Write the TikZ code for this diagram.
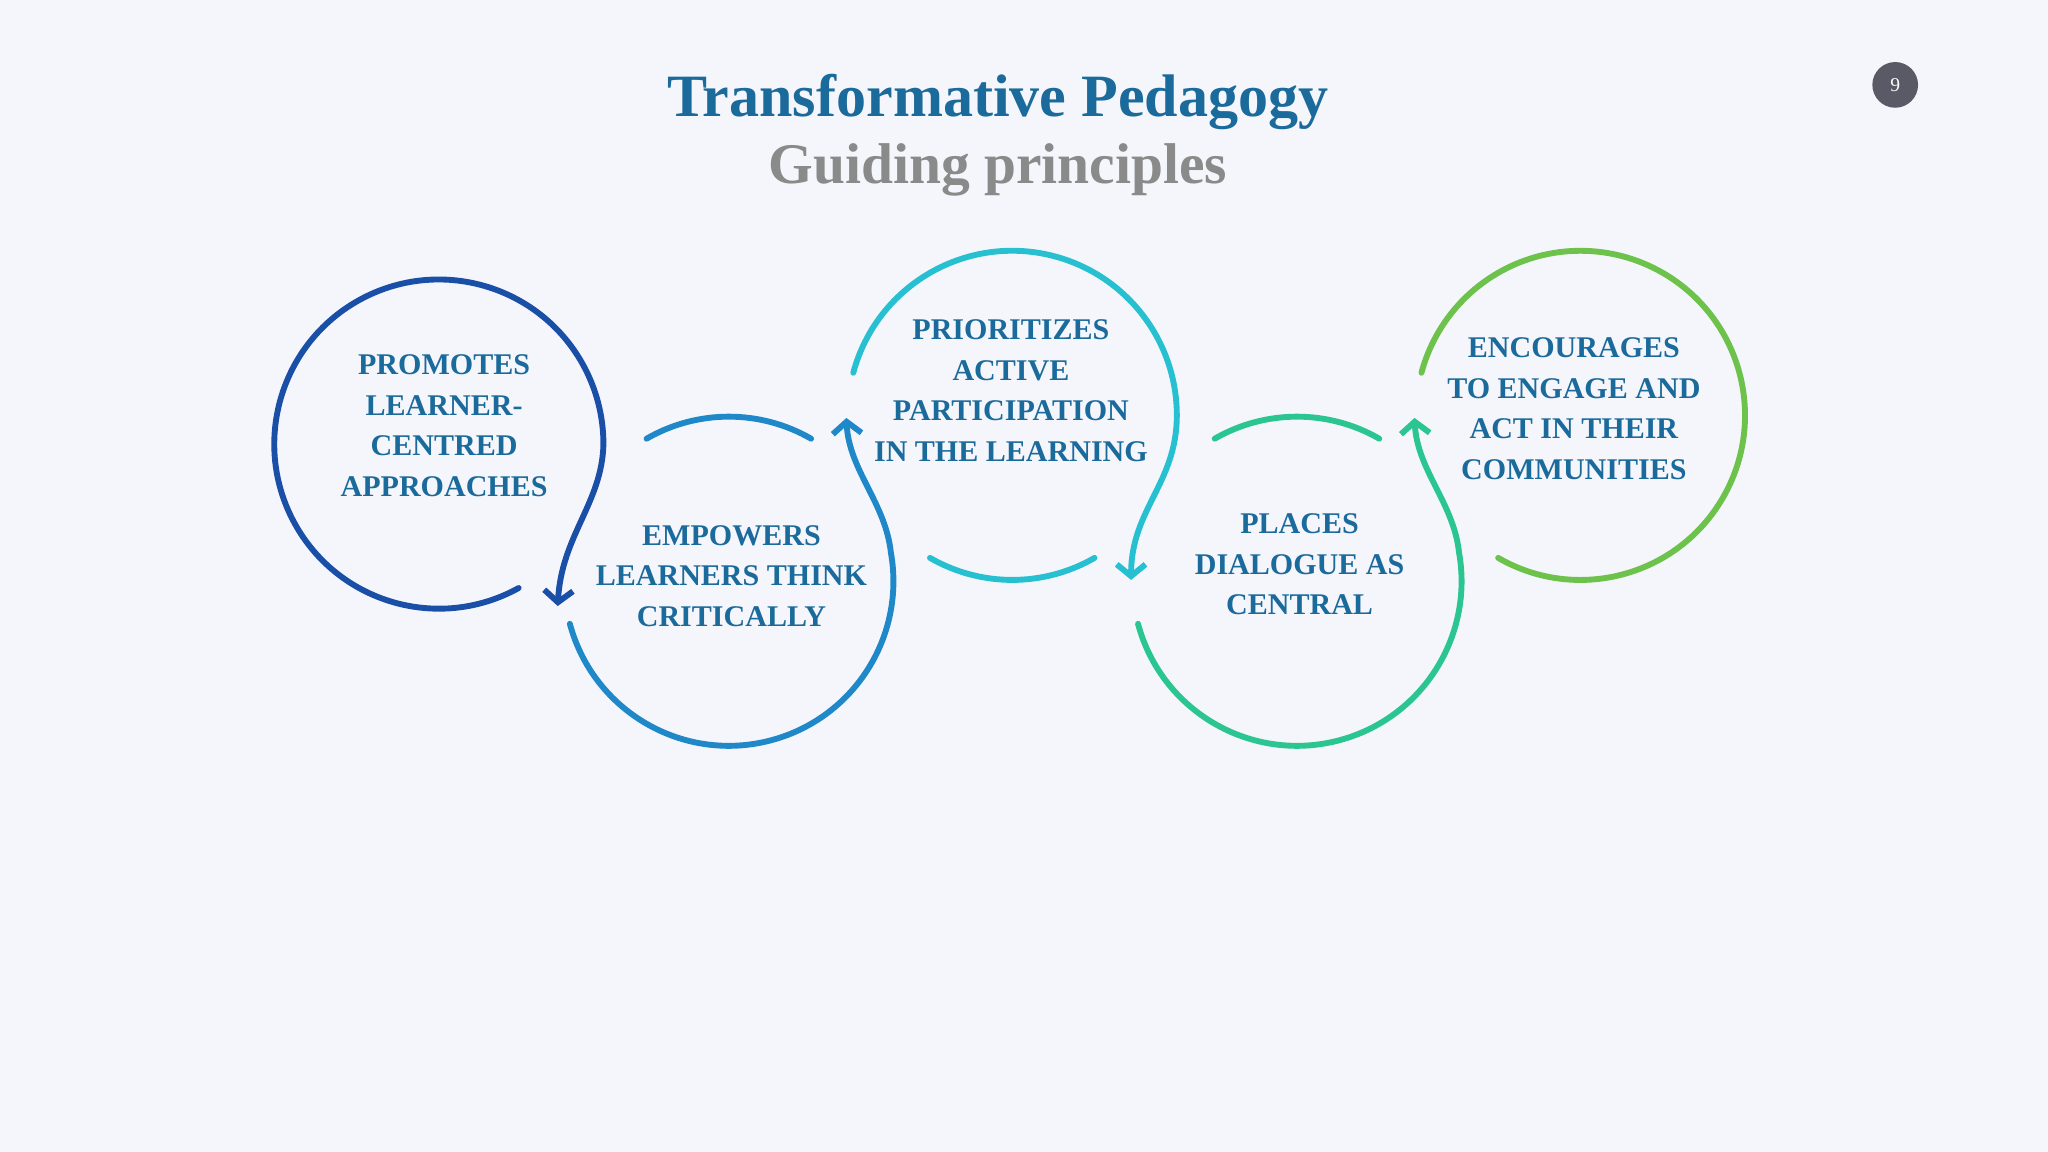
\documentclass[tikz,border=0pt]{standalone}
\usepackage{fontspec}
\setmainfont{Liberation Serif}
\usetikzlibrary{arrows.meta}
\definecolor{bg}{HTML}{F5F6FB}
\definecolor{cA}{HTML}{1A4FA8}
\definecolor{cB}{HTML}{1E88C8}
\definecolor{cC}{HTML}{26C0D0}
\definecolor{cD}{HTML}{2AC590}
\definecolor{cE}{HTML}{6CC24A}
\definecolor{txt}{HTML}{1B6A9C}
\definecolor{sub}{HTML}{8A8A8A}
\definecolor{pg}{HTML}{5A5A66}
\tikzset{
 ring/.style={line width=4.5pt, line cap=round},
 tip/.style={-{Straight Barb[length=9pt,width=22pt,line width=4.5pt]}},
 lbl/.style={align=center, text=txt, font=\fontsize{23}{31}\selectfont\bfseries},
}
\begin{document}
\begin{tikzpicture}[x=1pt,y=-1pt]
\fill[bg] (0,0) rectangle (1568,882);
\useasboundingbox (0,0) rectangle (1568,882);
\node[text=txt,font=\fontsize{46}{50}\selectfont\bfseries] (title) at (764,78) {Transformative Pedagogy};
\node[text=sub,font=\fontsize{44}{50}\selectfont\bfseries] (subtitle) at (764,130) {Guiding principles};
\node[circle,fill=pg,minimum size=35pt,inner sep=0pt,text=white,font=\fontsize{15}{15}\selectfont] (page) at (1451,65) {9};
% circle 1
\draw[ring,cA,tip] (336,340) ++(61:126) arc[start angle=61,end angle=360,radius=126]
  .. controls (461,385) and (430,410) .. (427,464);
% circle 2
\draw[ring,cB] (558,445) ++(240:126) arc[start angle=240,end angle=300,radius=126];
\draw[ring,cB,tip] (558,445) ++(165:126) arc[start angle=165,end angle=-10,radius=126]
  .. controls (678,385) and (650,360) .. (648,320);
% circle 3
\draw[ring,cC] (775,318) ++(60:126) arc[start angle=60,end angle=120,radius=126];
\draw[ring,cC,tip] (775,318) ++(195:126) arc[start angle=195,end angle=360,radius=126]
  .. controls (901,370) and (866,390) .. (866,444);
% circle 4
\draw[ring,cD] (993,445) ++(240:126) arc[start angle=240,end angle=300,radius=126];
\draw[ring,cD,tip] (993,445) ++(165:126) arc[start angle=165,end angle=-10,radius=126]
  .. controls (1113,385) and (1085,360) .. (1083,320);
% circle 5
\draw[ring,cE] (1210,318) ++(120:126) arc[start angle=120,end angle=-165,radius=126];
% labels
\node[lbl] (t1) at (340,326) {PROMOTES\\LEARNER-\\CENTRED\\APPROACHES};
\node[lbl] (t2) at (560,441) {EMPOWERS\\LEARNERS THINK\\CRITICALLY};
\node[lbl] (t3) at (774,299) {PRIORITIZES\\ACTIVE\\PARTICIPATION\\IN THE LEARNING};
\node[lbl] (t4) at (995,432) {PLACES\\DIALOGUE AS\\CENTRAL};
\node[lbl] (t5) at (1205,313) {ENCOURAGES\\TO ENGAGE AND\\ACT IN THEIR\\COMMUNITIES};
\end{tikzpicture}
\end{document}
